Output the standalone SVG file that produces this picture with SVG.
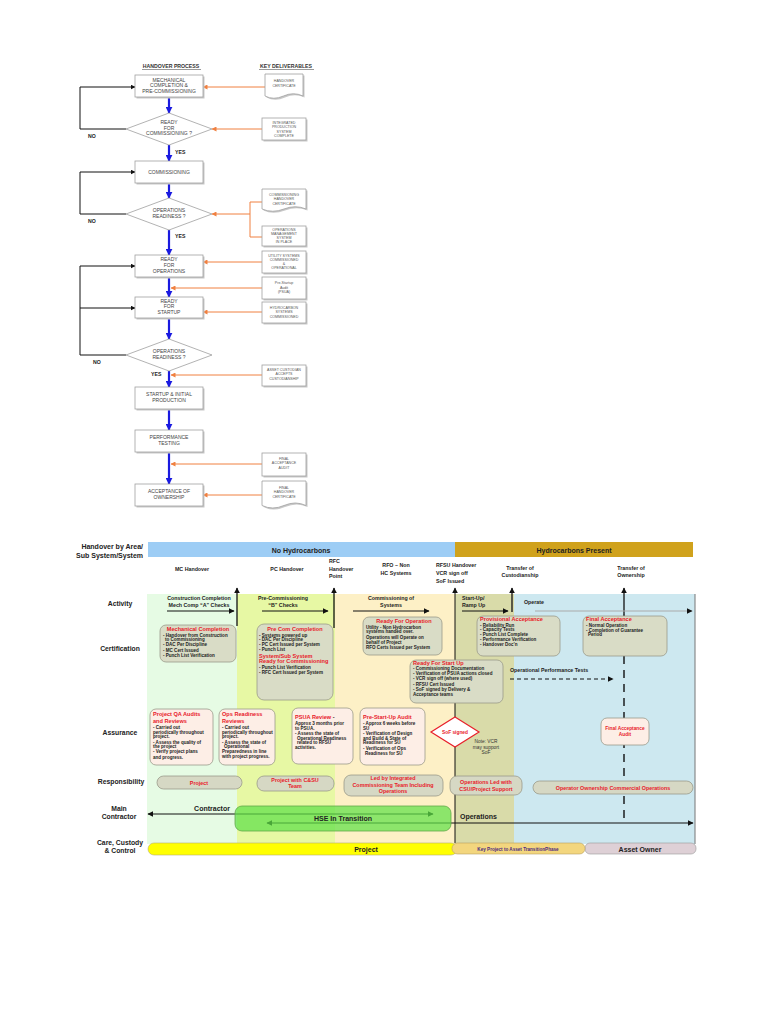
<svg xmlns="http://www.w3.org/2000/svg" width="768" height="1024" viewBox="0 0 768 1024">
<defs>
<style>
text{font-family:"Liberation Sans",Arial,sans-serif}
.fb{fill:#fff;stroke:#a0a0a0;stroke-width:0.8}
.sh{fill:#c8c8c8}
.ft{font-size:5px;fill:#444;text-anchor:middle}
.dt{font-size:3.6px;fill:#555;text-anchor:middle}
.hd{font-size:5.2px;font-weight:bold;fill:#333;text-anchor:middle}
.blue{stroke:#1a1ae0;stroke-width:2.2;fill:none}
.or{stroke:#f08040;stroke-width:1;fill:none}
.blk{stroke:#111;stroke-width:1;fill:none}
.lbl{font-size:6.8px;font-weight:bold;fill:#222;text-anchor:middle}
.ms{font-size:5.3px;font-weight:bold;fill:#222}
.cb{fill:#d9dcc6;stroke:#9a9a8a;stroke-width:0.8}
.ab{fill:#fdeee6;stroke:#9a9a8a;stroke-width:0.8}
.pill{fill:#d6d8c4;stroke:#9a9a8a;stroke-width:0.8}
.rt{font-size:5.6px;font-weight:bold;fill:#e8202a}
.it{font-size:4.55px;font-weight:bold;fill:#222}
.pt{font-size:5.4px;font-weight:bold;fill:#e8202a;text-anchor:middle}
.big{font-size:7px;font-weight:bold;fill:#222}
</style>
<marker id="mb" viewBox="0 0 10 10" refX="9" refY="5" markerWidth="7" markerHeight="7" markerUnits="userSpaceOnUse" orient="auto"><path d="M0,0 L10,5 L0,10 z" fill="#1a1ae0"/></marker>
<marker id="mo" viewBox="0 0 10 10" refX="9" refY="5" markerWidth="5" markerHeight="5" markerUnits="userSpaceOnUse" orient="auto"><path d="M0,0 L10,5 L0,10 z" fill="#f08040"/></marker>
<marker id="mk" viewBox="0 0 10 10" refX="9" refY="5" markerWidth="5" markerHeight="5" markerUnits="userSpaceOnUse" orient="auto"><path d="M0,0 L10,5 L0,10 z" fill="#111"/></marker>
<marker id="mk2" viewBox="0 0 10 10" refX="9" refY="5" markerWidth="6" markerHeight="6" markerUnits="userSpaceOnUse" orient="auto-start-reverse"><path d="M0,0 L10,5 L0,10 z" fill="#111"/></marker>
</defs>
<rect width="768" height="1024" fill="#fff"/>

<!-- ================= TOP FLOWCHART ================= -->
<g id="headers">
<text class="hd" x="171" y="68">HANDOVER PROCESS</text>
<line x1="142" y1="69.5" x2="201" y2="69.5" stroke="#333" stroke-width="0.5"/>
<text class="hd" x="286" y="68">KEY DELIVERABLES</text>
<line x1="259" y1="69.5" x2="314" y2="69.5" stroke="#333" stroke-width="0.5"/>
</g>

<g id="flow-connectors">
<path class="blue" d="M169,97 V113" marker-end="url(#mb)"/>
<path class="blue" d="M169,145 V161" marker-end="url(#mb)"/>
<path class="blue" d="M169,183 V198" marker-end="url(#mb)"/>
<path class="blue" d="M169,230 V255" marker-end="url(#mb)"/>
<path class="blue" d="M169,277 V297" marker-end="url(#mb)"/>
<path class="blue" d="M169,318 V339" marker-end="url(#mb)"/>
<path class="blue" d="M169,371 V387" marker-end="url(#mb)"/>
<path class="blue" d="M169,409 V430" marker-end="url(#mb)"/>
<path class="blue" d="M169,452 V484" marker-end="url(#mb)"/>
<path class="blk" d="M126,129 H80 V87 H135" marker-end="url(#mk)"/>
<path class="blk" d="M126,214 H80 V172 H135" marker-end="url(#mk)"/>
<path class="blk" d="M126,355 H80 V266 H135" marker-end="url(#mk)"/>
<path class="blk" d="M80,308 H135" marker-end="url(#mk)"/>
<path class="or" d="M265,87 H203" marker-end="url(#mo)"/>
<path class="or" d="M262,129 H212" marker-end="url(#mo)"/>
<path class="or" d="M262,202 H250 V237 H262"/>
<path class="or" d="M250,214 H212" marker-end="url(#mo)"/>
<path class="or" d="M262,262 H203" marker-end="url(#mo)"/>
<path class="or" d="M262,288 H171" marker-end="url(#mo)"/>
<path class="or" d="M262,312 H203" marker-end="url(#mo)"/>
<path class="or" d="M262,375 H171" marker-end="url(#mo)"/>
<path class="or" d="M262,464 H171" marker-end="url(#mo)"/>
<path class="or" d="M262,495 H203" marker-end="url(#mo)"/>
<text x="88" y="138" style="font-size:5.2px;font-weight:bold;fill:#222">NO</text>
<text x="88" y="223" style="font-size:5.2px;font-weight:bold;fill:#222">NO</text>
<text x="93" y="364" style="font-size:5.2px;font-weight:bold;fill:#222">NO</text>
<text x="175" y="154" style="font-size:5.2px;font-weight:bold;fill:#222">YES</text>
<text x="175" y="238" style="font-size:5.2px;font-weight:bold;fill:#222">YES</text>
<text x="151" y="376" style="font-size:5.2px;font-weight:bold;fill:#222">YES</text>
</g>

<g id="n-mc">
<rect class="sh" x="136.5" y="76.5" width="68" height="22"/>
<rect class="fb" x="135" y="75" width="68" height="22"/>
<text class="ft" x="169" y="81.5">MECHANICAL</text>
<text class="ft" x="169" y="87">COMPLETION &amp;</text>
<text class="ft" x="169" y="92.5">PRE-COMMISSIONING</text>
</g>
<g id="n-d1">
<polygon points="169,113 212,129 169,145 126,129" fill="#fff" stroke="#a0a0a0" stroke-width="0.8"/>
<text class="ft" x="169" y="124">READY</text>
<text class="ft" x="169" y="129.5">FOR</text>
<text class="ft" x="169" y="135">COMMISSIONING ?</text>
</g>
<g id="n-comm">
<rect class="sh" x="136.5" y="162.5" width="68" height="22"/>
<rect class="fb" x="135" y="161" width="68" height="22"/>
<text class="ft" x="169" y="173.5">COMMISSIONING</text>
</g>
<g id="n-d2">
<polygon points="169,198 212,214 169,230 126,214" fill="#fff" stroke="#a0a0a0" stroke-width="0.8"/>
<text class="ft" x="169" y="212">OPERATIONS</text>
<text class="ft" x="169" y="217.5">READINESS ?</text>
</g>
<g id="n-rfo">
<rect class="sh" x="136.5" y="256.5" width="68" height="22"/>
<rect class="fb" x="135" y="255" width="68" height="22"/>
<text class="ft" x="169" y="261">READY</text>
<text class="ft" x="169" y="267">FOR</text>
<text class="ft" x="169" y="273">OPERATIONS</text>
</g>
<g id="n-rfs">
<rect class="sh" x="136.5" y="298.5" width="68" height="21"/>
<rect class="fb" x="135" y="297" width="68" height="21"/>
<text class="ft" x="169" y="302.5">READY</text>
<text class="ft" x="169" y="308">FOR</text>
<text class="ft" x="169" y="313.5">STARTUP</text>
</g>
<g id="n-d3">
<polygon points="169,339 212,355 169,371 126,355" fill="#fff" stroke="#a0a0a0" stroke-width="0.8"/>
<text class="ft" x="169" y="353">OPERATIONS</text>
<text class="ft" x="169" y="358.5">READINESS ?</text>
</g>
<g id="n-su">
<rect class="sh" x="136.5" y="388.5" width="68" height="22"/>
<rect class="fb" x="135" y="387" width="68" height="22"/>
<text class="ft" x="169" y="395.5">STARTUP &amp; INITIAL</text>
<text class="ft" x="169" y="401.5">PRODUCTION</text>
</g>
<g id="n-pt">
<rect class="sh" x="136.5" y="431.5" width="68" height="22"/>
<rect class="fb" x="135" y="430" width="68" height="22"/>
<text class="ft" x="169" y="438.5">PERFORMANCE</text>
<text class="ft" x="169" y="444.5">TESTING</text>
</g>
<g id="n-ao">
<rect class="sh" x="136.5" y="485.5" width="68" height="22"/>
<rect class="fb" x="135" y="484" width="68" height="22"/>
<text class="ft" x="169" y="492.5">ACCEPTANCE OF</text>
<text class="ft" x="169" y="498.5">OWNERSHIP</text>
</g>

<g id="d-hc">
<path d="M266.5,75.5 H304.5 V97.5 Q295,93 285,97.5 T266.5,97.5 Z" fill="#c8c8c8"/>
<path d="M265,74 H303 V96 Q293.5,91.5 283.5,96 T265,96 Z" class="fb"/>
<text class="dt" x="284" y="82">HANDOVER</text>
<text class="dt" x="284" y="87">CERTIFICATE</text>
</g>
<g id="d-ips">
<rect class="sh" x="263.5" y="119.5" width="44" height="22"/>
<rect class="fb" x="262" y="118" width="44" height="22"/>
<text class="dt" x="284" y="124">INTEGRATED</text>
<text class="dt" x="284" y="128.3">PRODUCTION</text>
<text class="dt" x="284" y="132.6">SYSTEM</text>
<text class="dt" x="284" y="136.9">COMPLETE</text>
</g>
<g id="d-chc">
<path d="M263.5,190.5 H307.5 V210.5 Q297,206 285,210.5 T263.5,210.5 Z" fill="#c8c8c8"/>
<path d="M262,189 H306 V209 Q295.5,204.5 284,209 T262,209 Z" class="fb"/>
<text class="dt" x="284" y="196">COMMISSIONING</text>
<text class="dt" x="284" y="200.3">HANDOVER</text>
<text class="dt" x="284" y="204.6">CERTIFICATE</text>
</g>
<g id="d-oms">
<rect class="sh" x="263.5" y="227.5" width="44" height="20"/>
<rect class="fb" x="262" y="226" width="44" height="20"/>
<text class="dt" x="284" y="230.5">OPERATIONS</text>
<text class="dt" x="284" y="234.8">MANAGEMENT</text>
<text class="dt" x="284" y="239.1">SYSTEM</text>
<text class="dt" x="284" y="243.4">IN PLACE</text>
</g>
<g id="d-usc">
<rect class="sh" x="263.5" y="252.5" width="44" height="22"/>
<rect class="fb" x="262" y="251" width="44" height="22"/>
<text class="dt" x="284" y="256.5">UTILITY SYSTEMS</text>
<text class="dt" x="284" y="260.8">COMMISSIONED</text>
<text class="dt" x="284" y="265.1">&amp;</text>
<text class="dt" x="284" y="269.4">OPERATIONAL</text>
</g>
<g id="d-psua">
<rect class="sh" x="263.5" y="278.5" width="44" height="22"/>
<rect class="fb" x="262" y="277" width="44" height="22"/>
<text class="dt" x="284" y="284">Pre-Startup</text>
<text class="dt" x="284" y="288.5">Audit</text>
<text class="dt" x="284" y="293">(PSUA)</text>
</g>
<g id="d-hsc">
<rect class="sh" x="263.5" y="303.5" width="44" height="21"/>
<rect class="fb" x="262" y="302" width="44" height="21"/>
<text class="dt" x="284" y="309">HYDROCARBON</text>
<text class="dt" x="284" y="313.3">SYSTEMS</text>
<text class="dt" x="284" y="317.6">COMMISSIONED</text>
</g>
<g id="d-aca">
<rect class="sh" x="263.5" y="366.5" width="44" height="21"/>
<rect class="fb" x="262" y="365" width="44" height="21"/>
<text class="dt" x="284" y="371">ASSET CUSTODIAN</text>
<text class="dt" x="284" y="375.3">ACCEPTS</text>
<text class="dt" x="284" y="379.6">CUSTODIANSHIP</text>
</g>
<g id="d-faa">
<rect class="sh" x="263.5" y="454.5" width="44" height="23"/>
<rect class="fb" x="262" y="453" width="44" height="23"/>
<text class="dt" x="284" y="460">FINAL</text>
<text class="dt" x="284" y="464.3">ACCEPTANCE</text>
<text class="dt" x="284" y="468.6">AUDIT</text>
</g>
<g id="d-fhc">
<path d="M263.5,482.5 H307.5 V507 Q297,502 285,507 T263.5,507 Z" fill="#c8c8c8"/>
<path d="M262,481 H306 V505.5 Q295.5,500.5 284,505.5 T262,505.5 Z" class="fb"/>
<text class="dt" x="284" y="489">FINAL</text>
<text class="dt" x="284" y="493.3">HANDOVER</text>
<text class="dt" x="284" y="497.6">CERTIFICATE</text>
</g>

<!-- ================= BOTTOM CHART ================= -->
<g id="backgrounds">
<rect x="147" y="594" width="90" height="250" fill="#e6fbe4"/>
<rect x="237" y="594" width="98" height="250" fill="#e7f8a4"/>
<rect x="335" y="594" width="120" height="250" fill="#fdf0c6"/>
<rect x="455" y="594" width="59" height="250" fill="#d9dba9"/>
<rect x="514" y="594" width="181" height="250" fill="#cde8f0"/>
<line x1="695" y1="594" x2="695" y2="844" stroke="#777" stroke-width="1"/>
</g>

<g id="header-bar">
<rect x="148" y="542" width="307" height="15" fill="#9dcdf5"/>
<rect x="455" y="542" width="238" height="15" fill="#d0a21c"/>
<text class="big" x="301" y="552.5" text-anchor="middle">No Hydrocarbons</text>
<text class="big" x="574" y="552.5" text-anchor="middle">Hydrocarbons Present</text>
</g>

<g id="row-labels">
<text x="143" y="549" style="font-size:7px;font-weight:bold;fill:#222;text-anchor:end">Handover by Area/</text>
<text x="143" y="557.5" style="font-size:7px;font-weight:bold;fill:#222;text-anchor:end">Sub System/System</text>
<text class="lbl" x="120" y="606">Activity</text>
<text class="lbl" x="120" y="651">Certification</text>
<text class="lbl" x="120" y="735">Assurance</text>
<text class="lbl" x="121" y="784">Responsibility</text>
<text class="lbl" x="119" y="811">Main</text>
<text class="lbl" x="119" y="819">Contractor</text>
<text class="lbl" x="120" y="845">Care, Custody</text>
<text class="lbl" x="120" y="853">&amp; Control</text>
</g>

<g id="milestones">
<text class="ms" x="192" y="571" text-anchor="middle">MC Handover</text>
<text class="ms" x="287" y="571" text-anchor="middle">PC Handover</text>
<text class="ms" x="329" y="563">RFC</text>
<text class="ms" x="329" y="570.5">Handover</text>
<text class="ms" x="329" y="578">Point</text>
<text class="ms" x="396" y="567" text-anchor="middle">RFO – Non</text>
<text class="ms" x="396" y="574.5" text-anchor="middle">HC Systems</text>
<text class="ms" x="436" y="567">RFSU Handover</text>
<text class="ms" x="436" y="574.5">VCR sign off</text>
<text class="ms" x="436" y="582.5">SoF Issued</text>
<text class="ms" x="520" y="570" text-anchor="middle">Transfer of</text>
<text class="ms" x="520" y="577" text-anchor="middle">Custodianship</text>
<text class="ms" x="631" y="570" text-anchor="middle">Transfer of</text>
<text class="ms" x="631" y="577" text-anchor="middle">Ownership</text>
</g>

<g id="chart-connectors">
<path class="blk" style="stroke-width:1.3" d="M237,626 V588" marker-end="url(#mk2)"/>
<path class="blk" style="stroke-width:1.3" d="M334,628 V588" marker-end="url(#mk2)"/>
<path class="blk" style="stroke-width:1" d="M455,843 V588" marker-end="url(#mk2)"/>
<path class="blk" style="stroke-width:1.3" d="M512,612 V588" marker-end="url(#mk2)"/>
<path class="blk" style="stroke-width:1.3" d="M624,614 V588" marker-end="url(#mk2)"/>
<path d="M624,614 V822" stroke="#111" stroke-width="1.4" stroke-dasharray="8,6" fill="none"/>
<path class="blk" d="M167,611 H234" marker-end="url(#mk2)"/>
<path class="blk" d="M262,611 H328" marker-end="url(#mk2)"/>
<path class="blk" d="M353,611 H429" marker-end="url(#mk2)"/>
<path class="blk" d="M462,611 H508" marker-end="url(#mk2)"/>
<path d="M535,611 H692" stroke="#aaa" stroke-width="1" fill="none" marker-end="url(#mk2)"/>
<path d="M510,679 H613" stroke="#111" stroke-width="1" stroke-dasharray="4,3" fill="none" marker-end="url(#mk2)"/>
<path class="blk" d="M148,814 H433" marker-start="url(#mk2)" marker-end="url(#mk2)"/>
<path class="blk" d="M267,823 H693" marker-start="url(#mk2)" marker-end="url(#mk2)"/>
</g>

<g id="activity-text">
<text class="ms" x="199" y="600" text-anchor="middle">Construction Completion</text>
<text class="ms" x="199" y="606.5" text-anchor="middle">Mech Comp “A” Checks</text>
<text class="ms" x="283" y="600" text-anchor="middle">Pre-Commissioning</text>
<text class="ms" x="283" y="606.5" text-anchor="middle">“B” Checks</text>
<text class="ms" x="391" y="600" text-anchor="middle">Commissioning of</text>
<text class="ms" x="391" y="606.5" text-anchor="middle">Systems</text>
<text class="ms" x="462" y="600">Start-Up/</text>
<text class="ms" x="462" y="606.5">Ramp Up</text>
<text class="ms" x="524" y="604">Operate</text>
<text class="ms" x="510" y="672">Operational Performance Tests</text>
</g>

<g id="c-mc">
<rect class="cb" x="160" y="625" width="76" height="37" rx="6"/>
<text class="rt" x="198" y="631" text-anchor="middle">Mechanical Completion</text>
<text class="it" x="163" y="636.5">- Handover from Construction</text>
<text class="it" x="165" y="641">to Commissioning</text>
<text class="it" x="163" y="646">- DAC Per Discipline</text>
<text class="it" x="163" y="651.5">- MC Cert Issued</text>
<text class="it" x="163" y="656.5">- Punch List Verification</text>
</g>
<g id="c-pc">
<rect class="cb" x="257" y="624" width="76" height="76" rx="7"/>
<text class="rt" x="295" y="631" text-anchor="middle">Pre Com Completion</text>
<text class="it" x="259" y="636.5">- Systems powered up</text>
<text class="it" x="259" y="641">- DAC Per Discipline</text>
<text class="it" x="259" y="645.5">- PC Cert Issued per System</text>
<text class="it" x="259" y="650.5">- Punch List</text>
<text class="rt" x="259" y="657.5">System/Sub System</text>
<text class="rt" x="259" y="663">Ready for Commissioning</text>
<text class="it" x="259" y="668.5">- Punch List Verification</text>
<text class="it" x="259" y="673.5">- RFC Cert Issued per System</text>
</g>
<g id="c-rfo">
<rect class="cb" x="363" y="617" width="79" height="38" rx="6"/>
<text class="rt" x="404" y="623" text-anchor="middle">Ready For Operation</text>
<text class="it" x="366" y="628.5">Utility - Non Hydrocarbon</text>
<text class="it" x="366" y="633">systems  handed over.</text>
<text class="it" x="366" y="638.5">Operations will Operate on</text>
<text class="it" x="366" y="643.5">behalf of Project</text>
<text class="it" x="366" y="648.5">RFO Certs Issued per System</text>
</g>
<g id="c-rfsu">
<rect class="cb" x="410" y="660" width="93" height="43" rx="6"/>
<text class="rt" x="413" y="665">Ready For Start Up</text>
<text class="it" x="413" y="670">- Commissioning Documentation</text>
<text class="it" x="413" y="675">- Verification of PSUA actions closed</text>
<text class="it" x="413" y="680">- VCR sign off (where used)</text>
<text class="it" x="413" y="685.5">- RFSU Cert Issued</text>
<text class="it" x="413" y="690.5">- SoF signed by Delivery &amp;</text>
<text class="it" x="413" y="695.5">Acceptance teams</text>
</g>
<g id="c-pa">
<rect class="cb" x="477" y="616" width="83" height="40" rx="6"/>
<text class="rt" x="480" y="621">Provisional Acceptance</text>
<text class="it" x="480" y="626.5">- Reliability Run</text>
<text class="it" x="480" y="631">- Capacity Tests</text>
<text class="it" x="480" y="636">- Punch List Complete</text>
<text class="it" x="480" y="641">- Performance Verification</text>
<text class="it" x="480" y="646">- Handover Doc’n</text>
</g>
<g id="c-fa">
<rect class="cb" x="583" y="616" width="84" height="40" rx="6"/>
<text class="rt" x="586" y="621">Final Acceptance</text>
<text class="it" x="586" y="626.5">- Normal Operation</text>
<text class="it" x="586" y="631.5">- Completion of Guarantee</text>
<text class="it" x="588" y="636">Period</text>
</g>

<g id="a-qa">
<rect class="ab" x="150" y="709" width="63" height="56" rx="6"/>
<text class="rt" x="153" y="716">Project QA Audits</text>
<text class="rt" x="153" y="722.5">and Reviews</text>
<text class="it" x="153" y="729">- Carried out</text>
<text class="it" x="153" y="733.5">periodically throughout</text>
<text class="it" x="153" y="738">project.</text>
<text class="it" x="153" y="743.5">- Assess the quality of</text>
<text class="it" x="153" y="748">the project</text>
<text class="it" x="153" y="752.5">- Verify project plans</text>
<text class="it" x="153" y="758.5">and progress.</text>
</g>
<g id="a-ops">
<rect class="ab" x="219" y="709" width="56" height="56" rx="6"/>
<text class="rt" x="222" y="716">Ops Readiness</text>
<text class="rt" x="222" y="722.5">Reviews</text>
<text class="it" x="222" y="729">- Carried out</text>
<text class="it" x="222" y="733.5">periodically throughout</text>
<text class="it" x="222" y="738">project.</text>
<text class="it" x="222" y="743.5">- Assess the state of</text>
<text class="it" x="224" y="748">Operational</text>
<text class="it" x="222" y="753">Preparedness in line</text>
<text class="it" x="222" y="758">with project progress.</text>
</g>
<g id="a-psua">
<rect class="ab" x="292" y="708" width="61" height="56" rx="6"/>
<text x="295" y="718.5" style="font-size:5.6px;font-weight:bold"><tspan fill="#e8202a">PSUA Review</tspan><tspan fill="#222"> -</tspan></text>
<text class="it" x="295" y="724.5">Approx 3 months prior</text>
<text class="it" x="295" y="729.5">to PSUA.</text>
<text class="it" x="295" y="734.5">- Assess the state of</text>
<text class="it" x="297" y="739.5">Operational Readiness</text>
<text class="it" x="297" y="744">related to RFSU</text>
<text class="it" x="295" y="749">activities.</text>
</g>
<g id="a-psu">
<rect class="ab" x="360" y="708" width="65" height="57" rx="6"/>
<text class="rt" x="363" y="718.5">Pre-Start-Up Audit</text>
<text class="it" x="363" y="724.5">- Approx 6 weeks before</text>
<text class="it" x="363" y="729.5">SU</text>
<text class="it" x="363" y="734.5">- Verification of Design</text>
<text class="it" x="363" y="739.5">and Build &amp; State of</text>
<text class="it" x="363" y="744">Readiness for SU</text>
<text class="it" x="363" y="749.5">- Verification of Ops</text>
<text class="it" x="365" y="754.5">Readiness for SU</text>
</g>
<g id="a-sof">
<polygon points="455,717 479,732 455,747 431,732" fill="#fff" stroke="#e8202a" stroke-width="1.2"/>
<text x="455" y="734" style="font-size:4.8px;font-weight:bold;fill:#e8202a;text-anchor:middle">SoF signed</text>
<text x="486" y="743" style="font-size:4.8px;fill:#333;text-anchor:middle">Note: VCR</text>
<text x="486" y="748.5" style="font-size:4.8px;fill:#333;text-anchor:middle">may support</text>
<text x="486" y="754" style="font-size:4.8px;fill:#333;text-anchor:middle">SoF</text>
</g>
<g id="a-faa">
<rect class="ab" x="601" y="718" width="48" height="27" rx="6"/>
<text x="625" y="730" style="font-size:4.8px;font-weight:bold;fill:#e8202a;text-anchor:middle">Final Acceptance</text>
<text x="625" y="735.5" style="font-size:4.8px;font-weight:bold;fill:#e8202a;text-anchor:middle">Audit</text>
</g>

<g id="r-project">
<rect class="pill" x="157" y="776" width="85" height="13" rx="6.5"/>
<text class="pt" x="199" y="784.5">Project</text>
</g>
<g id="r-csu">
<rect class="pill" x="257" y="776" width="77" height="15" rx="7"/>
<text class="pt" x="295" y="781.5">Project with C&amp;SU</text>
<text class="pt" x="295" y="788">Team</text>
</g>
<g id="r-ict">
<rect class="pill" x="344" y="775" width="99" height="21" rx="7"/>
<text class="pt" x="393" y="780">Led by Integrated</text>
<text class="pt" x="393" y="786.5">Commissioning Team Including</text>
<text class="pt" x="393" y="793">Operations</text>
</g>
<g id="r-ops">
<rect class="pill" x="450" y="776" width="72" height="19" rx="7"/>
<text class="pt" x="486" y="783.5">Operations Led with</text>
<text class="pt" x="486" y="790.5">CSU/Project Support</text>
</g>
<g id="r-oper">
<rect class="pill" x="533" y="781" width="160" height="13" rx="6.5"/>
<text class="pt" x="613" y="789.5">Operator Ownership Commercial Operations</text>
</g>

<g id="m-hse">
<text class="big" x="212" y="811" text-anchor="middle">Contractor</text>
<rect x="235" y="806" width="216" height="25" rx="7" fill="#5fe048" fill-opacity="0.72" stroke="#63a84a" stroke-width="0.8"/>
<text class="big" x="343" y="821" text-anchor="middle">HSE In Transition</text>
<text class="big" x="460" y="819">Operations</text>
</g>

<g id="care">
<rect x="148" y="843" width="309" height="12" rx="6" fill="#ffff00" stroke="#b8b070" stroke-width="0.6"/>
<text class="big" x="366" y="851.5" text-anchor="middle">Project</text>
<rect x="585" y="843" width="111" height="11" rx="5" fill="#ded0d6" stroke="#999" stroke-width="0.6"/>
<rect x="452" y="843" width="133" height="11" rx="5.5" fill="#f3d67e" stroke="#b8a060" stroke-width="0.6"/>
<text x="518" y="850.5" style="font-size:4.6px;font-weight:bold;fill:#4a2a80;text-anchor:middle">Key Project to Asset TransitionPhase</text>
<text class="big" x="640" y="851.5" text-anchor="middle">Asset Owner</text>
</g>
</svg>
